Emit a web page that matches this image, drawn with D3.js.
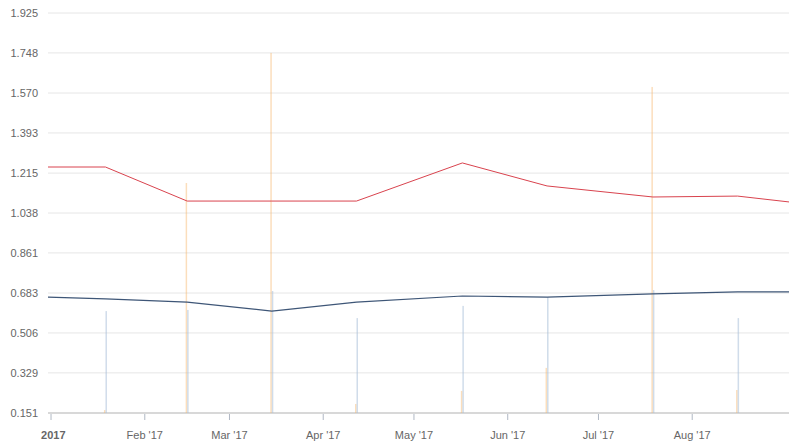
<!DOCTYPE html>
<html>
<head>
<meta charset="utf-8">
<script src="https://cdn.jsdelivr.net/npm/d3@7"></script>
<style>
body { margin: 0; background: #fff; }
text { font-family: "Liberation Sans", Arial, sans-serif; }
</style>
</head>
<body>
<div id="chart"></div>
<script>
// data
const lineDates = ["2016-12-31", "2017-01-19", "2017-02-15", "2017-03-15", "2017-04-12", "2017-05-17", "2017-06-14", "2017-07-19", "2017-08-16", "2017-09-02"];
const redValues = [1.242, 1.242, 1.091, 1.091, 1.091, 1.260, 1.158, 1.109, 1.113, 1.087];
const blueValues = [0.665, 0.657, 0.643, 0.603, 0.643, 0.670, 0.665, 0.679, 0.688, 0.688];

const barDates = ["2017-01-19", "2017-02-15", "2017-03-15", "2017-04-12", "2017-05-17", "2017-06-14", "2017-07-19", "2017-08-16"];
const orangeBars = [0.164, 1.171, 1.748, 0.191, 0.249, 0.351, 1.597, 0.253];
const blueBars = [0.603, 0.608, 0.692, 0.572, 0.626, 0.665, 0.696, 0.572];

const yTicks = [0.151, 0.329, 0.506, 0.683, 0.861, 1.038, 1.215, 1.393, 1.570, 1.748, 1.925];
const xTickLabels = ["2017", "Feb '17", "Mar '17", "Apr '17", "May '17", "Jun '17", "Jul '17", "Aug '17"];

const W = 789, H = 444;
const margin = {top: 13, right: 0, bottom: 31, left: 48},
      width = W - margin.left - margin.right,
      height = H - margin.top - margin.bottom;

const parse = d3.timeParse("%Y-%m-%d");

const svg = d3.select("#chart").append("svg")
    .attr("width", W).attr("height", H)
  .append("g")
    .attr("transform", `translate(${margin.left},${margin.top})`);

const x = d3.scaleTime()
    .domain([parse("2016-12-31"), parse("2017-09-02")])
    .range([0, width]);
const y = d3.scaleLinear()
    .domain([yTicks[0], yTicks[yTicks.length - 1]])
    .range([height, 0]);

// grid lines
svg.append("g").selectAll("line")
  .data(yTicks)
  .join("line")
    .attr("x1", 0).attr("x2", width)
    .attr("y1", d => y(d)).attr("y2", d => y(d))
    .attr("stroke", d => d === yTicks[0] ? "#d8d8d8" : "#e6e6e6")
    .attr("stroke-width", d => d === yTicks[0] ? 2 : 1);

// y labels
svg.append("g").selectAll("text")
  .data(yTicks)
  .join("text")
    .attr("x", -10).attr("y", d => y(d) + 4)
    .attr("text-anchor", "end")
    .attr("font-size", 11)
    .attr("fill", "#666")
    .text(d => d3.format(".3f")(d));

// x axis ticks
const months = d3.range(0, 8).map(m => new Date(2017, m, 1));
const xg = svg.append("g").attr("transform", `translate(0,${height})`);
xg.selectAll("line")
  .data(months)
  .join("line")
    .attr("x1", d => x(d)).attr("x2", d => x(d))
    .attr("y1", 1).attr("y2", 7)
    .attr("stroke", "#b0b8c4");
xg.selectAll("text")
  .data(months)
  .join("text")
    .attr("x", d => x(d)).attr("y", 26)
    .attr("text-anchor", (d, i) => i === 0 ? "start" : "middle")
    .attr("dx", (d, i) => i === 0 ? -10 : 0)
    .attr("font-size", 11)
    .attr("font-weight", (d, i) => i === 0 ? "bold" : "normal")
    .attr("fill", "#666")
    .text((d, i) => xTickLabels[i]);

// bars
const bars = barDates.map((d, i) => ({date: parse(d), o: orangeBars[i], b: blueBars[i]}));
svg.append("g").selectAll("rect")
  .data(bars)
  .join("rect")
    .attr("x", d => x(d.date) - 1.5)
    .attr("width", 1.5)
    .attr("y", d => y(d.o))
    .attr("height", d => y(yTicks[0]) - y(d.o))
    .attr("fill", "#f7b56a")
    .attr("opacity", 0.45);
svg.append("g").selectAll("rect")
  .data(bars)
  .join("rect")
    .attr("x", d => x(d.date))
    .attr("width", 1.5)
    .attr("y", d => y(d.b))
    .attr("height", d => y(yTicks[0]) - y(d.b))
    .attr("fill", "#a9bfd8")
    .attr("opacity", 0.55);

// lines
const pts = lineDates.map(parse);
const line = d3.line().x(d => x(d[0])).y(d => y(d[1]));
svg.append("path")
    .datum(pts.map((d, i) => [d, redValues[i]]))
    .attr("d", line)
    .attr("fill", "none")
    .attr("stroke", "#d9434e")
    .attr("stroke-width", 1);
svg.append("path")
    .datum(pts.map((d, i) => [d, blueValues[i]]))
    .attr("d", line)
    .attr("fill", "none")
    .attr("stroke", "#3e5677")
    .attr("stroke-width", 1.2);
</script>
</body>
</html>
